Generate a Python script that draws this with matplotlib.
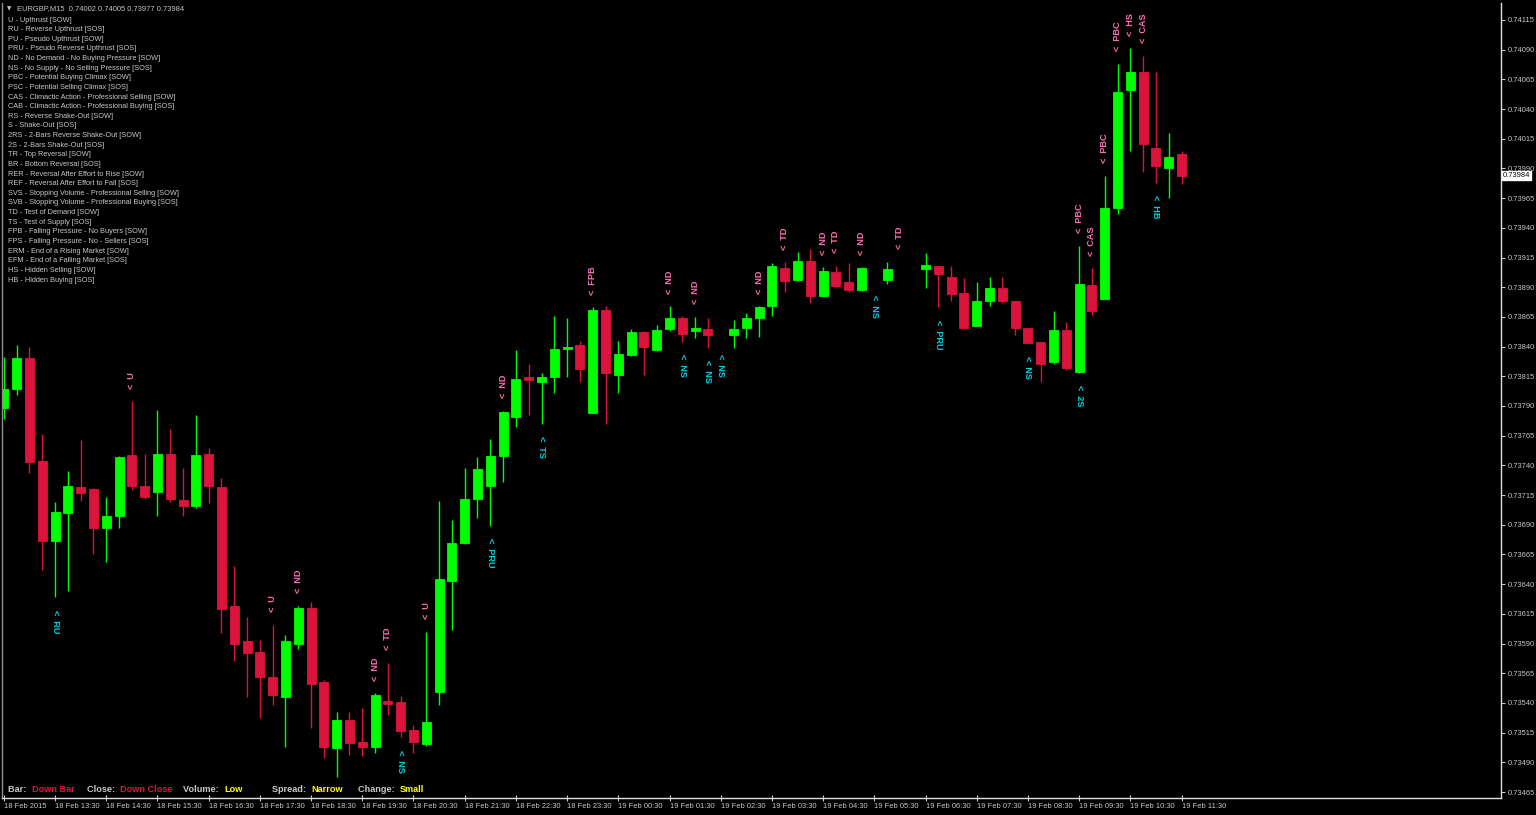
import numpy as np
import pandas as pd
import matplotlib
matplotlib.use("Agg")
import matplotlib.pyplot as plt
import matplotlib.transforms as mtransforms

plt.rcParams['font.family'] = ['Liberation Sans', 'DejaVu Sans']

# EURGBP M15, 18 Feb 2015 12:30 -> 19 Feb 2015 11:30
opens = [0.73788, 0.73804, 0.73830, 0.73744, 0.73676, 0.73700, 0.73722, 0.73720, 0.73687, 0.73697,
         0.73749, 0.73723, 0.73718, 0.73750, 0.73711, 0.73706, 0.73750, 0.73722, 0.73622, 0.73592,
         0.73583, 0.73562, 0.73545, 0.73590, 0.73620, 0.73558, 0.73502, 0.73526, 0.73507, 0.73503,
         0.73542, 0.73541, 0.73517, 0.73505, 0.73549, 0.73643, 0.73675, 0.73712, 0.73723, 0.73748,
         0.73781, 0.73814, 0.73810, 0.73814, 0.73838, 0.73841, 0.73784, 0.73871, 0.73816, 0.73833,
         0.73852, 0.73837, 0.73855, 0.73864, 0.73853, 0.73855, 0.73852, 0.73850, 0.73856, 0.73864,
         0.73874, 0.73906, 0.73896, 0.73912, 0.73883, 0.73903, 0.73894, 0.73888, 0.73900, 0.73896,
         0.73905, 0.73907, 0.73905, 0.73908, 0.73899, 0.73885, 0.73857, 0.73878, 0.73889, 0.73878,
         0.73856, 0.73844, 0.73827, 0.73854, 0.73819, 0.73892, 0.73880, 0.73957, 0.74056, 0.74071,
         0.74007, 0.73990, 0.74002]
highs = [0.73831, 0.73841, 0.73840, 0.73766, 0.73709, 0.73735, 0.73761, 0.73721, 0.73713, 0.73748,
         0.73794, 0.73750, 0.73787, 0.73771, 0.73738, 0.73782, 0.73755, 0.73729, 0.73655, 0.73612,
         0.73593, 0.73606, 0.73597, 0.73622, 0.73625, 0.73559, 0.73532, 0.73532, 0.73536, 0.73548,
         0.73574, 0.73546, 0.73521, 0.73600, 0.73710, 0.73694, 0.73738, 0.73747, 0.73762, 0.73786,
         0.73837, 0.73825, 0.73818, 0.73866, 0.73864, 0.73845, 0.73873, 0.73874, 0.73845, 0.73855,
         0.73853, 0.73858, 0.73874, 0.73866, 0.73865, 0.73864, 0.73858, 0.73862, 0.73868, 0.73874,
         0.73910, 0.73911, 0.73920, 0.73922, 0.73907, 0.73908, 0.73910, 0.73907, 0.73906, 0.73911,
         0.73912, 0.73911, 0.73919, 0.73908, 0.73908, 0.73898, 0.73894, 0.73899, 0.73899, 0.73878,
         0.73856, 0.73844, 0.73870, 0.73861, 0.73925, 0.73906, 0.73984, 0.74078, 0.74091, 0.74085,
         0.74071, 0.74020, 0.74005]
lows = [0.73779, 0.73799, 0.73734, 0.73652, 0.73629, 0.73634, 0.73710, 0.73665, 0.73659, 0.73687,
        0.73719, 0.73712, 0.73697, 0.73709, 0.73697, 0.73704, 0.73708, 0.73599, 0.73575, 0.73545,
        0.73527, 0.73538, 0.73503, 0.73585, 0.73519, 0.73494, 0.73478, 0.73496, 0.73495, 0.73498,
        0.73530, 0.73511, 0.73498, 0.73504, 0.73538, 0.73601, 0.73674, 0.73696, 0.73689, 0.73726,
        0.73772, 0.73782, 0.73775, 0.73801, 0.73814, 0.73810, 0.73784, 0.73775, 0.73801, 0.73832,
        0.73816, 0.73836, 0.73853, 0.73844, 0.73847, 0.73839, 0.73844, 0.73839, 0.73847, 0.73848,
        0.73866, 0.73886, 0.73895, 0.73877, 0.73883, 0.73890, 0.73886, 0.73887, 0.73894, 0.73893,
        0.73900, 0.73903, 0.73889, 0.73873, 0.73878, 0.73856, 0.73857, 0.73874, 0.73877, 0.73850,
        0.73843, 0.73810, 0.73825, 0.73820, 0.73818, 0.73867, 0.73880, 0.73952, 0.74005, 0.73987,
        0.73978, 0.73965, 0.73977]
closes = [0.73804, 0.73830, 0.73743, 0.73676, 0.73701, 0.73723, 0.73717, 0.73687, 0.73697, 0.73747,
          0.73723, 0.73713, 0.73750, 0.73712, 0.73706, 0.73749, 0.73723, 0.73619, 0.73590, 0.73582,
          0.73562, 0.73547, 0.73592, 0.73620, 0.73556, 0.73503, 0.73526, 0.73506, 0.73503, 0.73547,
          0.73539, 0.73516, 0.73507, 0.73524, 0.73644, 0.73675, 0.73712, 0.73737, 0.73748, 0.73785,
          0.73813, 0.73812, 0.73814, 0.73838, 0.73840, 0.73821, 0.73871, 0.73818, 0.73834, 0.73852,
          0.73840, 0.73854, 0.73864, 0.73851, 0.73856, 0.73850, 0.73852, 0.73855, 0.73864, 0.73873,
          0.73908, 0.73895, 0.73912, 0.73883, 0.73904, 0.73891, 0.73888, 0.73906, 0.73900, 0.73905,
          0.73905, 0.73907, 0.73909, 0.73901, 0.73884, 0.73856, 0.73878, 0.73889, 0.73878, 0.73856,
          0.73843, 0.73825, 0.73854, 0.73822, 0.73893, 0.73870, 0.73957, 0.74054, 0.74071, 0.74011,
          0.73992, 0.74000, 0.73984]

# VSA signals (bar index, code)
sow_bars = [10, 21, 23, 29, 30, 33, 39, 46, 52, 54, 59, 61, 64, 65, 67, 70, 84, 85, 86, 87, 88, 89]
sow_codes = ['U', 'U', 'ND', 'ND', 'TD', 'U', 'ND', 'FPB', 'ND', 'ND', 'ND', 'TD', 'ND', 'TD', 'ND',
             'TD', 'PBC', 'CAS', 'PBC', 'PBC', 'HS', 'CAS']
sos_bars = [4, 31, 38, 42, 53, 55, 56, 68, 73, 80, 84, 90]
sos_codes = ['RU', 'NS', 'PRU', 'TS', 'NS', 'NS', 'NS', 'NS', 'PRU', 'NS', '2S', 'HB']

legend_lines = [
    "U - Upthrust [SOW]", "RU - Reverse Upthrust [SOS]", "PU - Pseudo Upthrust [SOW]",
    "PRU - Pseudo Reverse Upthrust [SOS]", "ND - No Demand - No Buying Pressure [SOW]",
    "NS - No Supply - No Selling Pressure [SOS]", "PBC - Potential Buying Climax [SOW]",
    "PSC - Potential Selling Climax [SOS]", "CAS - Climactic Action - Professional Selling [SOW]",
    "CAB - Climactic Action - Professional Buying [SOS]", "RS - Reverse Shake-Out [SOW]",
    "S - Shake-Out [SOS]", "2RS - 2-Bars Reverse Shake-Out [SOW]", "2S - 2-Bars Shake-Out [SOS]",
    "TR - Top Reversal [SOW]", "BR - Bottom Reversal [SOS]",
    "RER - Reversal After Effort to Rise [SOW]", "REF - Reversal After Effort to Fall [SOS]",
    "SVS - Stopping Volume - Professional Selling [SOW]",
    "SVB - Stopping Volume - Professional Buying [SOS]", "TD - Test of Demand [SOW]",
    "TS - Test of Supply [SOS]", "FPB - Falling Pressure - No Buyers [SOW]",
    "FPS - Falling Pressure - No - Sellers [SOS]", "ERM - End of a Rising Market [SOW]",
    "EFM - End of a Falling Market [SOS]", "HS - Hidden Selling [SOW]", "HB - Hidden Buying [SOS]",
]

status = [("Bar:", "Down Bar"), ("Close:", "Down Close"), ("Volume:", "Low"),
          ("Spread:", "Narrow"), ("Change:", "Small")]

W, H = 1536, 815
BULL = '#00ff00'
BEAR = '#dc143c'
PINK = '#ff6eb4'
CYAN = '#00d2e6'
GREY = '#c8c8c8'

o = np.array(opens); h = np.array(highs); l = np.array(lows); c = np.array(closes)
x = np.arange(len(o))
times = pd.date_range("2015-02-18 12:30", periods=len(o), freq="15min")

fig = plt.figure(figsize=(W / 100, H / 100), dpi=100, facecolor='black')
ax = fig.add_axes([2 / W, 1 - 798 / H, 1499 / W, 795 / H])
ax.set_facecolor('black')

up = c > o + 1e-9
dn = c < o - 1e-9
flat = ~(up | dn)
bw = 0.7

# wicks
ax.vlines(x[up], l[up], h[up], color=BULL, lw=1.0)
ax.vlines(x[dn], l[dn], h[dn], color=BEAR, lw=1.0)
# doji bars use the chart line colour (black here)
ax.vlines(x[flat], l[flat], h[flat], color='black', lw=1.0)
# bodies
ax.bar(x[up], c[up] - o[up], bottom=o[up], width=bw, color=BULL, edgecolor=BULL, linewidth=0.6)
ax.bar(x[dn], o[dn] - c[dn], bottom=c[dn], width=bw, color=BEAR, edgecolor=BEAR, linewidth=0.6)

for i, t in zip(sow_bars, sow_codes):
    ax.annotate("<  " + t, (i, h[i]), xytext=(0, 9), textcoords='offset points',
                rotation=90, ha='center', va='bottom', color=PINK, fontsize=6.6,
                fontweight='bold')
for i, t in zip(sos_bars, sos_codes):
    ax.annotate("<  " + t, (i, l[i]), xytext=(0, -9), textcoords='offset points',
                rotation=-90, ha='center', va='top', color=CYAN, fontsize=6.6,
                fontweight='bold')

ax.set_xlim(-0.148, 116.96)
ax.set_ylim(0.7345995, 0.741293)

# price scale
yt = np.arange(0.73465, 0.741151, 0.00025)
ax.yaxis.tick_right()
ax.set_yticks(yt)
ax.set_yticklabels([f"{v:.5f}" for v in yt])
ax.tick_params(axis='y', direction='out', length=3, width=0.8, colors=GREY,
               labelsize=5.4, pad=2)

# time scale
xt = list(range(0, len(o), 4))
labels = ["18 Feb 2015"] + [times[i].strftime("%d Feb %H:%M") for i in xt[1:]]
ax.set_xticks(xt)
ax.set_xticklabels(labels)
for lab in ax.get_xticklabels():
    lab.set_ha('left')
ax.tick_params(axis='x', direction='inout', length=5, width=0.8, colors=GREY,
               labelsize=5.4, pad=1)

ax.spines['top'].set_visible(False)
ax.spines['left'].set_color('#909090')
ax.spines['right'].set_color('#e0e0e0')
ax.spines['bottom'].set_color('#e0e0e0')
for s in ['left', 'right', 'bottom']:
    ax.spines[s].set_linewidth(1.0)

# current price marker
tr = mtransforms.blended_transform_factory(ax.transAxes, ax.transData)
ax.text(1.0015, c[-1], f"{c[-1]:.5f}", transform=tr, ha='left', va='center', fontsize=5.4,
        color='black', bbox=dict(facecolor='white', edgecolor='white', pad=0.6), clip_on=False)

# header and signal legend
def fx(px):
    return px / W

def fy(py):
    return 1 - py / H

fig.text(fx(7), fy(9), "\u25bc", fontsize=4, color=GREY, va='center', family='DejaVu Sans')
fig.text(fx(17), fy(9), f"EURGBP,M15  {o[-1]:.5f} {h[-1]:.5f} {l[-1]:.5f} {c[-1]:.5f}",
         fontsize=5.4, color=GREY, va='center')
for k, line in enumerate(legend_lines):
    fig.text(fx(8), fy(20 + k * 9.63), line, fontsize=5.35, color=GREY, va='center')

# status line
status_x = [8, 87, 183, 272, 358]
for (name, val), sx in zip(status, status_x):
    t = fig.text(fx(sx), fy(790), name + " ", fontsize=6.6, fontweight='bold', color=GREY,
                 va='center')
    vcol = BEAR if "Down" in val else '#ffff00'
    ax.annotate(val, xy=(1, 0.5), xycoords=t, xytext=(2, 0), textcoords='offset points',
                fontsize=6.6, fontweight='bold', color=vcol, va='center', ha='left',
                annotation_clip=False)

fig.savefig("out.png", dpi=100, facecolor='black')
